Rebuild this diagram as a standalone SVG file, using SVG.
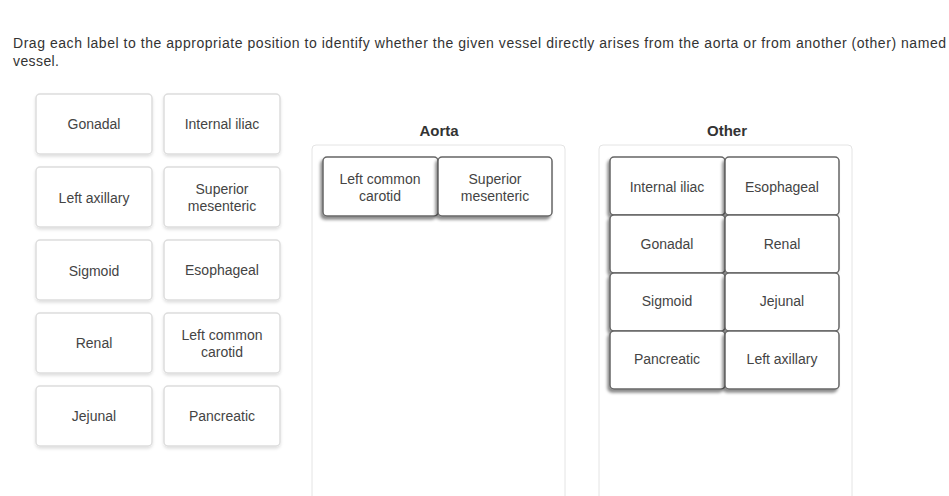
<svg xmlns="http://www.w3.org/2000/svg" width="949" height="496" viewBox="0 0 949 496">
<defs>
<filter id="sh" x="-10%" y="-10%" width="120%" height="130%"><feDropShadow dx="0" dy="2" stdDeviation="1.5" flood-color="#000" flood-opacity="0.12"/></filter>
<filter id="sh2" x="-10%" y="-10%" width="120%" height="130%"><feDropShadow dx="-2" dy="3" stdDeviation="1.5" flood-color="#000" flood-opacity="0.45"/></filter>
</defs>
<style>
text{font-family:"Liberation Sans",Arial,sans-serif;font-size:14px;fill:#444;text-anchor:middle}
.q{text-anchor:start;fill:#333;font-size:14px}
.h{font-weight:bold;font-size:15px;fill:#333}
.c rect{fill:#fff;stroke:#ddd;stroke-width:1.5;filter:url(#sh)}
.p rect{fill:#fff;stroke:#666;stroke-width:1.5;filter:url(#sh2)}
.z{fill:#fff;stroke:#e4e4e4;stroke-width:1}
</style>
<rect width="949" height="496" fill="#fff"/>
<text class="q" x="13" y="48" textLength="933" lengthAdjust="spacing">Drag each label to the appropriate position to identify whether the given vessel directly arises from the aorta or from another (other) named</text>
<text class="q" x="13" y="66" textLength="46" lengthAdjust="spacing">vessel.</text>
<g id="bank">
<g id="b1" class="c"><rect x="36" y="94" width="116" height="60" rx="4"/><text x="94" y="129">Gonadal</text></g>
<g id="b2" class="c"><rect x="164" y="94" width="116" height="60" rx="4"/><text x="222" y="129">Internal iliac</text></g>
<g id="b3" class="c"><rect x="36" y="167" width="116" height="60" rx="4"/><text x="94" y="203">Left axillary</text></g>
<g id="b4" class="c"><rect x="164" y="167" width="116" height="60" rx="4"/><text x="222" y="194">Superior</text><text x="222" y="211">mesenteric</text></g>
<g id="b5" class="c"><rect x="36" y="240" width="116" height="60" rx="4"/><text x="94" y="276">Sigmoid</text></g>
<g id="b6" class="c"><rect x="164" y="240" width="116" height="60" rx="4"/><text x="222" y="275">Esophageal</text></g>
<g id="b7" class="c"><rect x="36" y="313" width="116" height="60" rx="4"/><text x="94" y="348">Renal</text></g>
<g id="b8" class="c"><rect x="164" y="313" width="116" height="60" rx="4"/><text x="222" y="340">Left common</text><text x="222" y="357">carotid</text></g>
<g id="b9" class="c"><rect x="36" y="386" width="116" height="60" rx="4"/><text x="94" y="421">Jejunal</text></g>
<g id="b10" class="c"><rect x="164" y="386" width="116" height="60" rx="4"/><text x="222" y="421">Pancreatic</text></g>
</g>
<g id="aorta">
<text class="h" x="439" y="136">Aorta</text>
<rect class="z" x="312" y="145" width="253" height="360" rx="4"/>
<g id="a1" class="p"><rect x="323" y="157" width="115" height="59" rx="4"/><text x="380" y="184">Left common</text><text x="380" y="201">carotid</text></g>
<g id="a2" class="p"><rect x="438" y="157" width="114" height="59" rx="4"/><text x="495" y="184">Superior</text><text x="495" y="201">mesenteric</text></g>
</g>
<g id="other">
<text class="h" x="727" y="136">Other</text>
<rect class="z" x="599" y="145" width="253" height="360" rx="4"/>
<g id="o1" class="p"><rect x="610" y="157" width="115" height="58" rx="4"/><text x="667" y="192">Internal iliac</text></g>
<g id="o2" class="p"><rect x="725" y="157" width="114" height="58" rx="4"/><text x="782" y="192">Esophageal</text></g>
<g id="o3" class="p"><rect x="610" y="215" width="115" height="58" rx="4"/><text x="667" y="249">Gonadal</text></g>
<g id="o4" class="p"><rect x="725" y="215" width="114" height="58" rx="4"/><text x="782" y="249">Renal</text></g>
<g id="o5" class="p"><rect x="610" y="273" width="115" height="58" rx="4"/><text x="667" y="306">Sigmoid</text></g>
<g id="o6" class="p"><rect x="725" y="273" width="114" height="58" rx="4"/><text x="782" y="306">Jejunal</text></g>
<g id="o7" class="p"><rect x="610" y="331" width="115" height="58" rx="4"/><text x="667" y="364">Pancreatic</text></g>
<g id="o8" class="p"><rect x="725" y="331" width="114" height="58" rx="4"/><text x="782" y="364">Left axillary</text></g>
</g>
<g id="connectors"/>
</svg>
